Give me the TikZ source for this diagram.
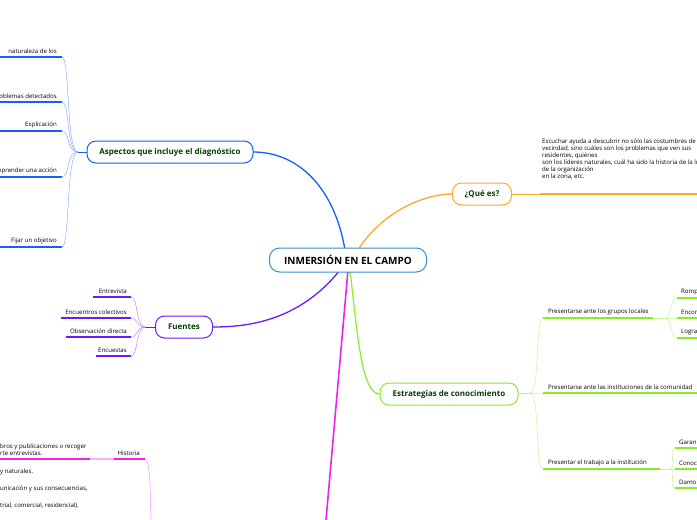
\documentclass[tikz,border=0pt]{standalone}
\usepackage{fontspec}
\setmainfont{Open Sans}
\begin{document}
\begin{tikzpicture}[x=1pt,y=-1pt,
  topic/.style={draw,rounded corners=9pt,line width=1pt,minimum height=22pt,inner xsep=8pt,font=\bfseries\fontsize{8}{9}\selectfont,text=green!25!black,fill=white},
  leaf/.style={font=\fontsize{6.1}{7}\selectfont,inner sep=1pt},
  ul/.style={line width=1.2pt},
  con/.style={line width=0.5pt}]
\useasboundingbox (0,0) rectangle (697,520);
\definecolor{cblue}{HTML}{1A5CFF}\definecolor{corange}{HTML}{FFA726}
\definecolor{cpurple}{HTML}{6A1AFF}\definecolor{cgreen}{HTML}{88EE22}
\definecolor{cpink}{HTML}{EE22EE}\definecolor{ccent}{HTML}{3A8FD0}
% main connectors
\draw[cblue,line width=1.3pt] (345,250) .. controls (335,190) and (300,152) .. (253,152);
\draw[corange,line width=1.3pt] (358,250) .. controls (380,215) and (420,194) .. (453,194);
\draw[cpurple,line width=1.3pt] (340,270) .. controls (300,320) and (250,327) .. (213,327);
\draw[cgreen,line width=1.2pt] (350,270) .. controls (358,340) and (362,394) .. (380,394);
\draw[cpink,line width=1.6pt] (348,270) -- (326,520);
\node[draw=ccent,line width=1pt,rounded corners=10pt,minimum width=157pt,minimum height=24pt,font=\bfseries\fontsize{10}{12}\selectfont,fill=white] (c) at (348,260) {INMERSIÓN EN EL CAMPO};
% Aspectos
\node[topic,draw=cblue,minimum width=166pt] (asp) at (170,152) {Aspectos que incluye el diagnóstico};
\coordinate (aj) at (78,152);
\draw[cblue,con] (asp.west) -- (aj);
\foreach \y/\t in {57/naturaleza de los,102/oblemas detectados,131/Explicación,177/mprender una acción,247/Fijar un objetivo}{
  \node[leaf,anchor=south east] at (58,\y-2) {\t};
  \draw[cblue,ul] (0,\y) -- (62,\y);
  \draw[cblue!50,con] (aj) .. controls (66,152) and (70,\y) .. (62,\y);
}
% Que es
\node[topic,draw=corange,minimum width=59pt] (q) at (482,194) {¿Qué es?};
\draw[corange,con] (q.east) -- (540,194);
\draw[corange,ul] (540,194) -- (697,194);
\node[leaf,anchor=north west,align=left] at (541,138) {Escuchar ayuda a descubrir no sólo las costumbres de la\\vecindad, sino cuáles son los problemas que ven sus\\residentes, quiénes\\son los líderes naturales, cuál ha sido la historia de la lucha\\de la organización\\en la zona, etc.};
% Fuentes
\node[topic,draw=cpurple,minimum width=57pt] (f) at (184,327) {Fuentes};
\coordinate (fj) at (145,327);
\draw[cpurple,con] (f.west) -- (fj);
\foreach \y/\x/\t in {297/93/Entrevista,318/61/Encuentros colectivos,337/66/Observación directa,356/96/Encuestas}{
  \node[leaf,anchor=south east] at (128,\y-2) {\t};
  \draw[cpurple,ul] (\x,\y) -- (131,\y);
  \draw[cpurple!50,con] (fj) .. controls (136,327) and (138,\y) .. (131,\y);
}
% Estrategias
\node[topic,draw=cgreen,minimum width=138pt] (e) at (449,394) {Estrategias de conocimiento};
\coordinate (ej) at (530,393);
\draw[cgreen,con] (e.east) -- (ej);
\foreach \y/\xe/\t in {318/653/Presentarse ante los grupos locales,393/697/Presentarse ante las instituciones de la comunidad,469/660/Presentar el trabajo a la institución}{
  \node[leaf,anchor=south west] at (547,\y-2) {\t};
  \draw[cgreen,ul] (543,\y) -- (\xe,\y);
  \draw[cgreen!50,con] (ej) .. controls (540,393) and (535,\y) .. (543,\y);
}
\coordinate (g1) at (665,318);
\draw[cgreen!50,con] (653,318) -- (g1);
\foreach \y/\t in {298/Romp,318/Encor,338/Logra}{
  \node[leaf,anchor=south west] at (680,\y-2) {\t};
  \draw[cgreen,ul] (677,\y) -- (697,\y);
  \draw[cgreen!50,con] (g1) .. controls (672,318) and (670,\y) .. (677,\y);
}
\coordinate (g2) at (670,469);
\draw[cgreen!50,con] (660,469) -- (g2);
\foreach \y/\t in {448/Garan,469/Conoc,488/Damo}{
  \node[leaf,anchor=south west] at (678,\y-2) {\t};
  \draw[cgreen,ul] (675,\y) -- (697,\y);
  \draw[cgreen!50,con] (g2) .. controls (677,469) and (668,\y) .. (675,\y);
}
% Historia
\node[leaf,anchor=south east] (h) at (141,457) {Historia};
\draw[cpink,ul] (0,459) -- (90,459);
\draw[cpink!35,ul] (90,459) -- (114,459);
\draw[cpink,ul] (114,459) -- (145,459);
\draw[cpink!50,con] (145,459) .. controls (150,462) and (150,480) .. (151,520);
\node[leaf,anchor=south west,align=left] at (-1,457) {bros y publicaciones o recoger\\rte entrevistas.};
\node[leaf,anchor=west] at (-1,472) {y naturales.};
\node[leaf,anchor=west] at (-1,489) {unicación y sus consecuencias,};
\node[leaf,anchor=west] at (-1,506) {trial, comercial, residencial).};
\end{tikzpicture}
\end{document}
